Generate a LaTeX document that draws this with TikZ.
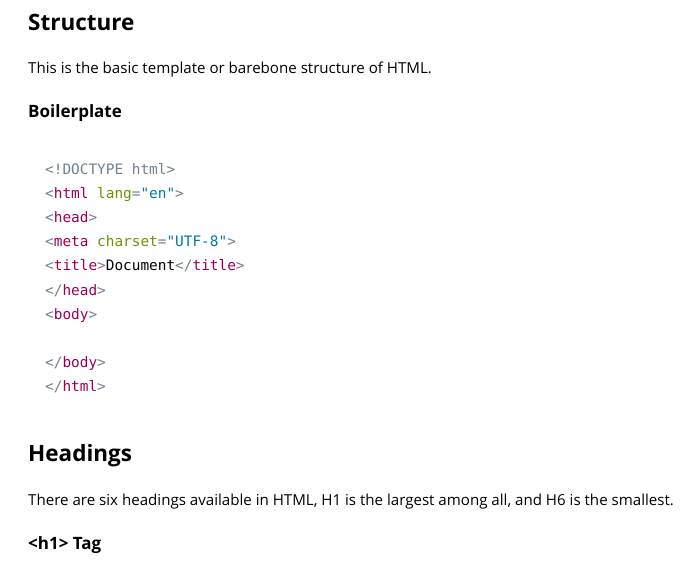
\documentclass[tikz,border=0pt]{standalone}
\usepackage{fontspec}
\setmainfont{Open Sans}
\setmonofont{DejaVu Sans Mono}
\definecolor{pg}{HTML}{708090}
\definecolor{pt}{HTML}{990055}
\definecolor{pa}{HTML}{669900}
\definecolor{pv}{HTML}{0077AA}
\newcommand{\G}[1]{\textcolor{pg}{#1}}
\newcommand{\T}[1]{\textcolor{pt}{#1}}
\newcommand{\A}[1]{\textcolor{pa}{#1}}
\newcommand{\V}[1]{\textcolor{pv}{#1}}
\begin{document}
\begin{tikzpicture}[x=1pt,y=-1pt,
  h1/.style={anchor=base west,inner sep=0,font=\fontsize{22.5}{26}\selectfont\bfseries},
  h3/.style={anchor=base west,inner sep=0,font=\fontsize{17}{20}\selectfont\bfseries},
  par/.style={anchor=base west,inner sep=0,font=\fontsize{15.1}{18}\selectfont},
  code/.style={anchor=base west,inner sep=0,font=\fontsize{14.4}{17}\ttfamily}]
\useasboundingbox[fill=white] (0,0) rectangle (693,569);
\node[h1] (s) at (28,31) {Structure};
\node[par] (p1) at (28,74) {This is the basic template or barebone structure of HTML.};
\node[h3] (b) at (28,118) {Boilerplate};
\node[code] (c1) at (45,175) {\G{<!DOCTYPE html>}};
\node[code] (c2) at (45,199) {\G{<}\T{html} \A{lang}\G{=}\V{"en"}\G{>}};
\node[code] (c3) at (45,223) {\G{<}\T{head}\G{>}};
\node[code] (c4) at (45,247) {\G{<}\T{meta} \A{charset}\G{=}\V{"UTF-8"}\G{>}};
\node[code] (c5) at (45,271) {\G{<}\T{title}\G{>}Document\G{</}\T{title}\G{>}};
\node[code] (c6) at (45,295) {\G{</}\T{head}\G{>}};
\node[code] (c7) at (45,319) {\G{<}\T{body}\G{>}};
\node[code] (c8) at (45,367) {\G{</}\T{body}\G{>}};
\node[code] (c9) at (45,391) {\G{</}\T{html}\G{>}};
\node[h1] (h) at (28,461) {Headings};
\node[par] (p2) at (28,505) {There are six headings available in HTML, H1 is the largest among all, and H6 is the smallest.};
\node[h3] (t) at (28,549) {<h1> Tag};
\end{tikzpicture}
\end{document}
